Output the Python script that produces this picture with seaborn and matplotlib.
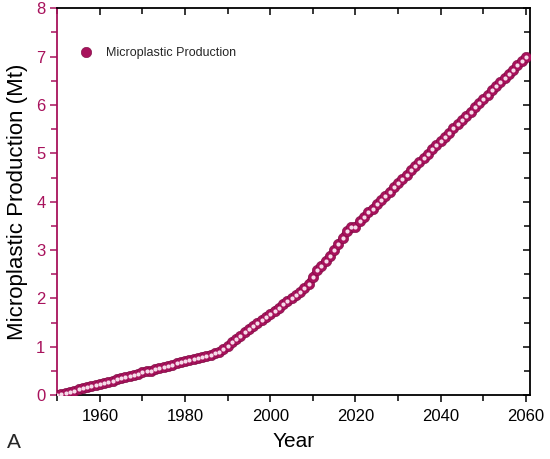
import numpy as np
import matplotlib
matplotlib.use("Agg")
import matplotlib.pyplot as plt
import seaborn as sns
import pandas as pd
from matplotlib.ticker import MultipleLocator

# annual microplastic production (Mt)
years = list(range(1950, 2061))
production = [
    0.00, 0.02, 0.05, 0.07, 0.09, 0.12, 0.14, 0.16, 0.19, 0.21,
    0.23, 0.26, 0.28, 0.30, 0.33, 0.35, 0.37, 0.40, 0.42, 0.44,
    0.47, 0.49, 0.51, 0.54, 0.56, 0.58, 0.61, 0.63, 0.66, 0.68,
    0.70, 0.73, 0.75, 0.77, 0.80, 0.82, 0.84, 0.87, 0.89, 0.95,
    1.02, 1.09, 1.16, 1.23, 1.30, 1.37, 1.43, 1.50, 1.56, 1.62,
    1.68, 1.75, 1.81, 1.88, 1.94, 2.01, 2.07, 2.14, 2.21, 2.30,
    2.45, 2.58, 2.68, 2.78, 2.88, 3.00, 3.12, 3.25, 3.40, 3.48,
    3.48, 3.60, 3.69, 3.78, 3.86, 3.95, 4.04, 4.12, 4.21, 4.30,
    4.39, 4.47, 4.56, 4.65, 4.73, 4.82, 4.91, 4.99, 5.08, 5.17,
    5.26, 5.34, 5.43, 5.52, 5.60, 5.69, 5.78, 5.86, 5.95, 6.04,
    6.13, 6.21, 6.30, 6.39, 6.47, 6.56, 6.65, 6.73, 6.82, 6.91,
    7.00,
]
series_name = "Microplastic Production"

df = pd.DataFrame({"Year": years, "Production": production})

sns.set_style("ticks")
plt.rcParams["font.family"] = ["Liberation Sans", "DejaVu Sans"]

main = "#A8125C"
light = "#F6DCEA"

fig = plt.figure(figsize=(5.5, 4.59), dpi=100)
ax = fig.add_axes([0.104, 0.139, 0.86, 0.843])

sns.lineplot(data=df, x="Year", y="Production", ax=ax, color=main,
             linewidth=5, zorder=2)
sns.scatterplot(data=df, x="Year", y="Production", ax=ax, color=main,
                s=56, edgecolor="#7A0A40", linewidth=0.4, zorder=3,
                label=series_name)
sns.scatterplot(data=df, x="Year", y="Production", ax=ax, color=light,
                s=9, linewidth=0, zorder=4, legend=False)

ax.set_xlim(1950, 2061)
ax.set_ylim(0, 8)
ax.xaxis.set_major_locator(MultipleLocator(20))
ax.xaxis.set_minor_locator(MultipleLocator(10))
ax.yaxis.set_major_locator(MultipleLocator(1))
ax.yaxis.set_minor_locator(MultipleLocator(0.5))

ax.tick_params(axis="x", which="both", direction="out", labelsize=12,
               colors="black", width=1.1, pad=5)
ax.tick_params(axis="y", which="both", direction="out", labelsize=12,
               colors=main, width=1.1)
ax.tick_params(which="major", length=5)
ax.tick_params(which="minor", length=4)

# inward black ticks on the top and right frame
top = ax.secondary_xaxis("top")
top.xaxis.set_major_locator(MultipleLocator(20))
top.xaxis.set_minor_locator(MultipleLocator(10))
top.tick_params(which="both", direction="in", labeltop=False, width=1.1,
                colors="black")
top.tick_params(which="major", length=5)
top.tick_params(which="minor", length=4)
right = ax.secondary_yaxis("right")
right.yaxis.set_major_locator(MultipleLocator(1))
right.yaxis.set_minor_locator(MultipleLocator(0.5))
right.tick_params(which="both", direction="in", labelright=False, width=1.1,
                  colors="black")
right.tick_params(which="major", length=5)
right.tick_params(which="minor", length=4)
for sec in (top, right):
    for sp in sec.spines.values():
        sp.set_visible(False)

for side in ["top", "right", "bottom"]:
    ax.spines[side].set_color("black")
    ax.spines[side].set_linewidth(1.3)
ax.spines["left"].set_color(main)
ax.spines["left"].set_linewidth(1.3)

ax.set_xlabel("Year", fontsize=15, color="black", labelpad=6)
ax.set_ylabel("Microplastic Production (Mt)", fontsize=16, color="black",
              labelpad=6)

ax.legend(loc="upper left", bbox_to_anchor=(0.01, 0.93), frameon=False,
          fontsize=9, handletextpad=0.6)

fig.text(0.012, 0.025, "A", fontsize=15)

fig.savefig("out.png", dpi=100)
